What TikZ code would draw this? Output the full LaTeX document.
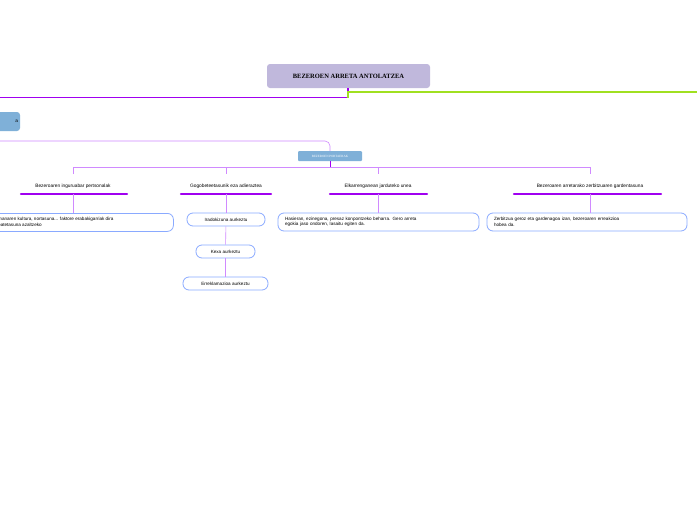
\documentclass[tikz,border=0pt]{standalone}
\usepackage{fontspec}
\setsansfont{Liberation Sans}
\setmainfont{Liberation Serif}
\begin{document}
\begin{tikzpicture}[x=1pt,y=-1pt]
\definecolor{lp}{HTML}{D08AFF}
\definecolor{dp}{HTML}{A000F0}
\definecolor{bb}{HTML}{8AAAFF}
\definecolor{tb}{HTML}{7FB0D8}
\definecolor{tt}{HTML}{C0B8DC}
\definecolor{gl}{HTML}{A0E020}
\tikzset{leaf/.style={draw=bb,line width=0.8pt,rounded corners=6pt,fill=white,font=\sffamily\fontsize{4.6}{5.4}\selectfont,inner sep=0pt,anchor=north west},
lab/.style={font=\sffamily\fontsize{4.8}{5.4}\selectfont},
con/.style={draw=lp,line width=0.6pt}}
\useasboundingbox (0,0) rectangle (697,520);
\fill[white] (0,0) rectangle (697,520);
% title
\node[fill=tt,rounded corners=3pt,minimum width=163pt,minimum height=24pt,font=\rmfamily\bfseries\fontsize{6.5}{7}\selectfont] (title) at (348.5,76) {BEZEROEN ARRETA ANTOLATZEA};
\coordinate (tj) at (348,88);
\coordinate (lj) at (0,97.5);
\fill[dp] (0,96.8) rectangle (348.6,98.2);
\draw[draw=dp,line width=1.2pt] (348,97.5) -- (tj);
\draw[draw=gl,line width=1.2pt] (348,97.5) -- (348,92) -- (697,92);
% left partial node
\node[fill=tb,rounded corners=3pt,minimum width=50pt,minimum height=19pt,inner sep=0pt,font=\sffamily\fontsize{4.8}{5}\selectfont,text width=46pt,align=right] (left) at (-5,121.5) {a};
% portaerak
\node[fill=tb,rounded corners=1pt,minimum width=64pt,minimum height=10pt,inner sep=0pt,text=white,font=\rmfamily\fontsize{3.2}{3.5}\selectfont] (port) at (330,156) {BEZEROEN PORTAERAK};
\draw[con] (0,141) -- (325,141) to[out=0,in=90] (330,146) -- (port.north);
\coordinate (hub) at (330,167);
\draw[draw=dp,line width=0.9pt] (port.south) -- (hub);
\draw[con] (73,174) -- (73,167) -- (590,167) -- (590,174);
\draw[con] (226,167) -- (226,174); \draw[con] (378,167) -- (378,174);
% labels
\node[lab] (l1) at (73,186) {Bezeroaren inguruabar pertsonalak};
\node[lab] (l2) at (226,186) {Gogobeteetasunik eza adieraztea};
\node[lab] (l3) at (378,186) {Elkarrenganean jarduteko unea};
\node[lab] (l4) at (590,186) {Bezeroaren arretarako zerbitzuaren gardentasuna};
\draw[draw=dp,line width=2.2pt,line cap=round] (21,194) -- (127,194);
\draw[draw=dp,line width=2.2pt,line cap=round] (181,194) -- (271,194);
\draw[draw=dp,line width=2.2pt,line cap=round] (330,194) -- (427,194);
\draw[draw=dp,line width=2.2pt,line cap=round] (514,194) -- (661,194);
% leaves
\node[leaf,minimum width=213pt,minimum height=18pt] (b1) at (-40,213) {};
\node[font=\sffamily\fontsize{4.6}{5.4}\selectfont,anchor=west,align=left,inner sep=0pt] (b1t) at (-2,222) {manaren kultura, nortasuna... faktore erabakigarriak dira\\batetasuna azaltzeko};
\node[leaf,minimum width=78pt,minimum height=13pt,anchor=center] (b2) at (226,219.5) {Iradokizuna aurkeztu};
\node[leaf,minimum width=59pt,minimum height=13pt,anchor=center] (b3) at (225.5,251.5) {Kexa aurkeztu};
\node[leaf,minimum width=85pt,minimum height=13pt,anchor=center] (b4) at (225.5,283.5) {Erreklamazioa aurkeztu};
\node[leaf,minimum width=201pt,minimum height=18pt,text width=187pt,align=left,anchor=center,inner xsep=7pt] (b5) at (378.5,222) {Hasieran, ezinegona, presaz konpontzeko beharra. Gero arreta\\egokia jaso ondoren, lasaitu egiten da.};
\node[leaf,minimum width=200pt,minimum height=18pt,text width=186pt,align=left,anchor=center,inner xsep=7pt] (b6) at (587,222) {Zerbitzua geroz eta gardenagoa izan, bezeroaren erreakzioa\\hobea da.};
\draw[con] (73,194) -- (b1.north -| 73,0);
\draw[con] (226,194) -- (b2.north); \draw[con] (b2) -- (b3); \draw[con] (b3) -- (b4);
\draw[con] (378,194) -- (b5.north -| 378,0);
\draw[con] (590,194) -- (b6.north -| 590,0);
\end{tikzpicture}
\end{document}
